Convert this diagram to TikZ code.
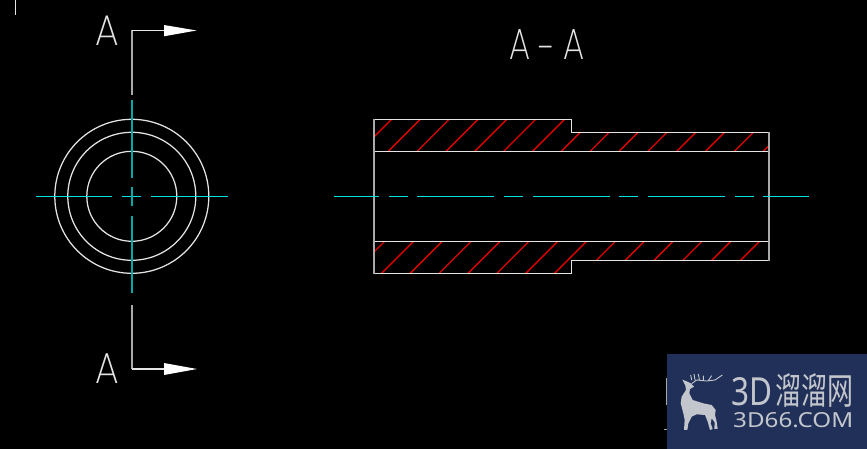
\documentclass[tikz,border=0pt]{standalone}
\usepackage{graphicx}
\usepackage{fontspec}
\newfontfamily\cadfont[UprightFont={* ExtraLight}]{Poppins}
\newfontfamily\cjkfont{Noto Sans CJK SC}
\setsansfont{Noto Sans}
\definecolor{cadwhite}{RGB}{228,228,228}
\definecolor{cadgray}{RGB}{170,170,170}
\definecolor{cyanh}{RGB}{0,225,225}
\definecolor{cyanv}{RGB}{0,170,170}
\definecolor{hatchred}{RGB}{225,0,0}
\definecolor{wmblue}{RGB}{32,48,88}
\definecolor{wmtext}{RGB}{195,198,204}
\tikzset{
  x=1pt,y=-1pt,
  outline/.style={draw=cadwhite,line width=1.25pt},
  heavy/.style={draw=cadgray,line width=1.6pt},
  centerh/.style={draw=cyanh,line width=1.25pt},
  centerv/.style={draw=cyanv,line width=1.7pt},
  hatchline/.style={draw=hatchred,line width=1.35pt},
  cutarrow/.style={fill=white,draw=none},
  letter/.style={text=cadwhite,inner sep=0pt,anchor=south west},
}
\begin{document}
\begin{tikzpicture}
\useasboundingbox (0,0) rectangle (867,449);
\fill[black] (0,0) rectangle (867,449);
% stray tick
\draw[draw=cadwhite,line width=1pt] (15.3,0) -- (15.3,15);
% end view
\foreach \r in {77,64,45} \draw[outline] (131.8,196.3) circle[radius=\r];
\draw[centerh] (36,196.3)--(112,196.3) (122,196.3)--(141,196.3) (151,196.3)--(228,196.3);
\draw[centerv] (132,100)--(132,178) (132,187)--(132,206) (132,216)--(132,293);
% cutting plane marks
\draw[heavy] (132,95)--(132,30.5);
\draw[outline] (132,30.5)--(164,30.5);
\fill[cutarrow] (164,25)--(196.5,30.5)--(164,36.3)--cycle;
\draw[heavy] (132,305)--(132,369);
\draw[outline] (132,369)--(164,369);
\fill[cutarrow] (164,363)--(197,369)--(164,375)--cycle;
\node[letter] (topa) at (95,45.3) {\resizebox{23.5pt}{29.5pt}{\cadfont A}};
\node[letter] (bota) at (95,384) {\resizebox{23.5pt}{29.8pt}{\cadfont A}};
\node[letter] (title) at (509.5,64) {\resizebox{75pt}{30pt}{\cadfont A\kern.25em\raisebox{-.09em}{-}\kern.25emA}};
% hatching
\begin{scope}
\clip (373.7,119.3)--(571.3,119.3)--(571.3,132.3)--(769,132.3)--(769,151.7)--(373.7,151.7)--cycle;
\foreach \k in {0,...,14} {
  \pgfmathsetmacro{\c}{510.8+28.84*\k}
  \draw[hatchline] ({\c-100},100)--({\c-170},170);
}
\end{scope}
\begin{scope}
\clip (373.7,241.3)--(769.5,241.3)--(769.5,260.8)--(571.3,260.8)--(571.3,273.3)--(373.7,273.3)--cycle;
\foreach \k in {0,...,14} {
  \pgfmathsetmacro{\c}{626+28.84*\k}
  \draw[hatchline] ({\c-230},230)--({\c-280},280);
}
\end{scope}
% section outline
\draw[outline] (373.7,119.3)--(571.3,119.3)--(571.3,132.3)--(769,132.3);
\draw[outline] (373.7,151.7)--(769,151.7);
\draw[outline] (373.7,241.3)--(769,241.3);
\draw[outline] (769,260.3)--(571.3,260.3)--(571.3,273.3)--(373.7,273.3);
\draw[heavy] (373.7,119)--(373.7,273.6);
\draw[heavy] (769,132)--(769,260.6);
% section centre line
\draw[centerh] (334,196.3)--(379,196.3) (389,196.3)--(408,196.3) (417,196.3)--(494,196.3)
  (504,196.3)--(523,196.3) (533,196.3)--(610,196.3) (619,196.3)--(638,196.3)
  (648,196.3)--(725,196.3) (735,196.3)--(754,196.3) (763,196.3)--(809,196.3);
% remnants beside the watermark
\draw[draw=cadgray,line width=0.8pt] (666,378)--(666,405) (664,429)--(667,429);
% watermark
\fill[wmblue] (667,354) rectangle (867,449);
\begin{scope}[shift={(670,365)},x=0.3333pt,y=-0.3333pt]
\fill[wmtext] (37,44)--(52,50)--(62,55)--(72,65)--(60,72)--(58,85)--(68,105)--(100,115)--(125,120)--(137,135)--(135,150)--(140,170)--(143,192)--(133,192)--(134,172)--(125,160)--(122,175)--(128,192)--(120,195)--(113,170)--(105,150)--(80,148)--(65,155)--(55,175)--(52,195)--(42,195)--(44,165)--(40,145)--(32,115)--(35,95)--(48,75)--(46,62)--cycle;
\draw[wmtext,line width=0.9pt] (65,56)--(80,45)--(110,48)--(135,45)--(157,30)
  (65,45)--(62,30) (75,45)--(72,27) (88,44)--(85,27) (100,46)--(100,32) (115,47)--(125,32);
\end{scope}
\node[text=wmtext,inner sep=0pt,anchor=south west] (wmone) at (731,406)
  {\resizebox{41pt}{28pt}{\sffamily 3D}};
\node[text=wmtext,inner sep=0pt,anchor=south west] (wmcjk) at (775,407.5)
  {\resizebox{78pt}{31pt}{\cjkfont 溜溜网}};
\node[text=wmtext,inner sep=0pt,anchor=south west] (wmtwo) at (733,428)
  {\resizebox{120pt}{15pt}{\sffamily 3D66.COM}};
\end{tikzpicture}
\end{document}
